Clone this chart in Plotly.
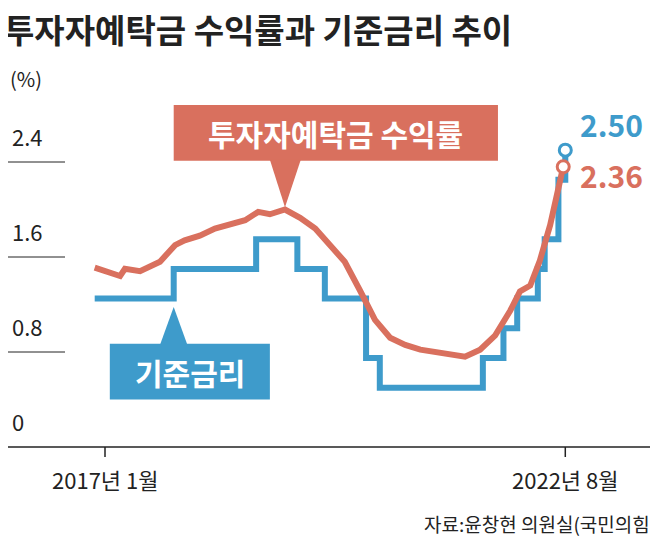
"""Investor deposit yield vs base rate."""

import plotly.graph_objects as go

# month index: 0 = 2017-01, 67 = 2022-08
RATE_MONTHS = [-1.5, 10, 22, 28, 32, 38, 40, 55, 58, 60, 63, 64, 66, 67]
RATE_VALUES = [1.25, 1.50, 1.75, 1.50, 1.25, 0.75, 0.50, 0.75, 1.00, 1.25, 1.50, 1.75, 2.25, 2.50]

YIELD_MONTHS = [-1.5, 0.7, 2.2, 2.9, 5.1, 8.0, 10.2, 11.6, 13.8, 16.0, 18.2, 20.4, 22.3, 24.0, 26.2,
                28.4, 30.6, 32.7, 34.9, 37.1, 39.3, 41.5, 43.7, 45.9, 48.0, 50.2, 52.4, 54.6, 56.8,
                59.0, 60.4, 61.9, 63.3, 64.8, 65.8, 66.7]
YIELD_VALUES = [1.51, 1.47, 1.44, 1.50, 1.48, 1.56, 1.70, 1.74, 1.78, 1.84, 1.88, 1.91, 1.98, 1.96,
                2.00, 1.93, 1.84, 1.70, 1.56, 1.32, 1.07, 0.92, 0.86, 0.82, 0.80, 0.77, 0.76, 0.82,
                0.94, 1.15, 1.31, 1.36, 1.57, 1.87, 2.16, 2.36]

Y_TICKS = [0, 0.8, 1.6, 2.4]
Y_LABELS = ["0", "0.8", "1.6", "2.4"]
X_TICKS = [0, 67]
X_LABELS = ["2017년 1월", "2022년 8월"]

BLUE = "#3E9BCB"
ORANGE = "#D9705E"
FONT = "Noto Sans CJK KR"
PX = 6.87  # px per month
VPX = 118.75  # px per unit
OFF = 8  # page body margin
LEFT = -105 / PX  # month at reference px 0


fig = go.Figure()
fig.add_trace(go.Scatter(x=RATE_MONTHS, y=RATE_VALUES, mode="lines", line={"color": BLUE, "width": 6, "shape": "hv"}))
fig.add_trace(go.Scatter(x=YIELD_MONTHS, y=YIELD_VALUES, mode="lines", line={"color": ORANGE, "width": 6}))
fig.add_trace(go.Scatter(x=[RATE_MONTHS[-1]], y=[RATE_VALUES[-1]], mode="markers",
                         marker={"size": 12, "color": "white", "line": {"color": BLUE, "width": 3}}))
fig.add_trace(go.Scatter(x=[YIELD_MONTHS[-1]], y=[YIELD_VALUES[-1]], mode="markers",
                         marker={"size": 12, "color": "white", "line": {"color": ORANGE, "width": 3}}))

# axis line, ticks and short gridlines
fig.add_shape(type="line", xref="paper", x0=0, x1=1, y0=0, y1=0, line={"color": "#222", "width": 1.5})
for m in X_TICKS:
    fig.add_shape(type="line", x0=m, x1=m, y0=0, y1=-10 / VPX, line={"color": "#222", "width": 1.5})
for v, lab in zip(Y_TICKS, Y_LABELS):
    if v > 0:
        fig.add_shape(type="line", x0=LEFT, x1=LEFT + 65 / PX, y0=v, y1=v, line={"color": "#222", "width": 1})
    fig.add_annotation(x=LEFT + 10 / PX, y=v + 8 / VPX, text=lab, showarrow=False, xanchor="left",
                       yanchor="bottom", font={"family": FONT, "size": 22, "color": "#222"})
fig.add_annotation(x=LEFT + 8 / PX, y=3.1, text="(%)", showarrow=False, xanchor="left",
                   font={"family": FONT, "size": 20, "color": "#222"})
for m, lab in zip(X_TICKS, X_LABELS):
    fig.add_annotation(x=m, y=-0.27, text=lab, showarrow=False, font={"family": FONT, "size": 22, "color": "#222"})

# label boxes with pointers
fig.add_shape(type="rect", x0=10, x1=57.2, y0=2.41, y1=2.88, fillcolor=ORANGE, line={"width": 0})
fig.add_shape(type="path", path="M 24,2.42 L 26.2,2.02 L 28.5,2.42 Z", fillcolor=ORANGE, line={"width": 0})
fig.add_annotation(x=33.6, y=2.645, text="<b>투자자예탁금 수익률</b>", showarrow=False,
                   font={"family": FONT, "size": 30, "color": "white"})
fig.add_shape(type="rect", x0=0.7, x1=24, y0=0.4, y1=0.87, fillcolor=BLUE, line={"width": 0})
fig.add_shape(type="path", path="M 8,0.86 L 10,1.18 L 12,0.86 Z", fillcolor=BLUE, line={"width": 0})
fig.add_annotation(x=12.3, y=0.635, text="<b>기준금리</b>", showarrow=False,
                   font={"family": FONT, "size": 30, "color": "white"})

# end values
fig.add_annotation(x=68.8, y=2.72, text="<b>2.50</b>", showarrow=False, xanchor="left",
                   font={"family": FONT, "size": 30, "color": BLUE})
fig.add_annotation(x=68.8, y=2.29, text="<b>2.36</b>", showarrow=False, xanchor="left",
                   font={"family": FONT, "size": 30, "color": ORANGE})

fig.add_annotation(xref="paper", yref="paper", x=-0.01, y=1.01, xanchor="left", yanchor="top",
                   text="<b>투자자예탁금 수익률과 기준금리 추이</b>", showarrow=False,
                   font={"family": FONT, "size": 33, "color": "#222"})
fig.add_annotation(xref="paper", yref="paper", x=1.0, y=0.0, xanchor="right", yanchor="bottom",
                   text="자료:윤창현 의원실(국민의힘)", showarrow=False,
                   font={"family": FONT, "size": 19, "color": "#222"})

fig.update_layout(width=658 - OFF, height=539 - OFF, margin={"l": 0, "r": 0, "t": 0, "b": 0},
                  plot_bgcolor="white", paper_bgcolor="white", showlegend=False,
                  xaxis={"range": [(OFF - 105) / PX, (658 - 105) / PX], "visible": False},
                  yaxis={"range": [(447 - 539) / VPX, (447 - OFF) / VPX], "visible": False})
fig.write_html("out.html")
